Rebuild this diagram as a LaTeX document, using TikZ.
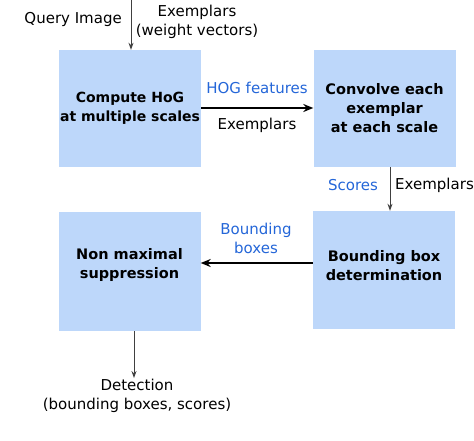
\documentclass[tikz,border=0pt]{standalone}
\usepackage{fontspec}
\setmainfont{DejaVu Sans}
\usepackage{tikz}
\usetikzlibrary{arrows.meta,positioning}
\definecolor{boxblue}{HTML}{BDD7FA}
\definecolor{txtblue}{HTML}{2466D8}

\begin{document}
\begin{tikzpicture}[x=1pt,y=-1pt,font=\fontsize{15}{19}\selectfont,
  box/.style={fill=boxblue,inner sep=0pt,minimum width=142pt,minimum height=117pt,align=center,font=\fontsize{14.5}{19}\selectfont\bfseries},
  lb/.style={align=center,inner sep=1pt}, bl/.style={lb,text=txtblue},
  ln/.style={draw=black!75,line width=0.9pt,-{Stealth[length=7pt,width=5pt]}},
  hv/.style={draw=black,line width=1.8pt,-{Stealth[length=10pt,width=8pt]}}]
  \useasboundingbox (0,0) rectangle (474,440);
  \node[box,font=\fontsize{14}{19}\selectfont\bfseries] (hog) at (130,108.5) {Compute HoG\\at multiple scales};
  \node[box] (conv) at (384.5,108.5) {Convolve each\\exemplar\\at each scale};
  \node[box,minimum height=119pt] (nms) at (129.5,271.5) {Non maximal\\suppression\\[-2pt]};
  \node[box,minimum height=118pt] (bbox) at (384,270) {Bounding box\\determination\\[-9pt]};
  \coordinate (qin) at (131,0);
  \node[lb,anchor=east] (qry) at (123,19) {Query Image};
  \node[lb] (ex) at (197,22) {Exemplars\\(weight vectors)};
  \node[lb] (det) at (137,396) {Detection\\(bounding boxes, scores)};
  \draw[ln] (qin)--(qin|-hog.north);
  \draw[hv] (hog.east|-0,108)--(conv.west|-0,108);
  \draw[ln] ([xshift=5.5pt]conv.south)--([xshift=5.5pt]conv.south|-bbox.north);
  \draw[hv] (bbox.west|-0,263)--(nms.east|-0,263);
  \draw[ln] ([xshift=4.5pt]nms.south)--([xshift=4.5pt]nms.south|-det.north);
  \node[bl] (hf) at (257,88) {HOG features};
  \node[lb] (ex2) at (257,125) {Exemplars};
  \node[bl] (sc) at (353,185) {Scores};
  \node[lb,anchor=west] (ex3) at (394,185) {Exemplars};
  \node[bl] (bb) at (256,238) {Bounding\\boxes};
\end{tikzpicture}
\end{document}
